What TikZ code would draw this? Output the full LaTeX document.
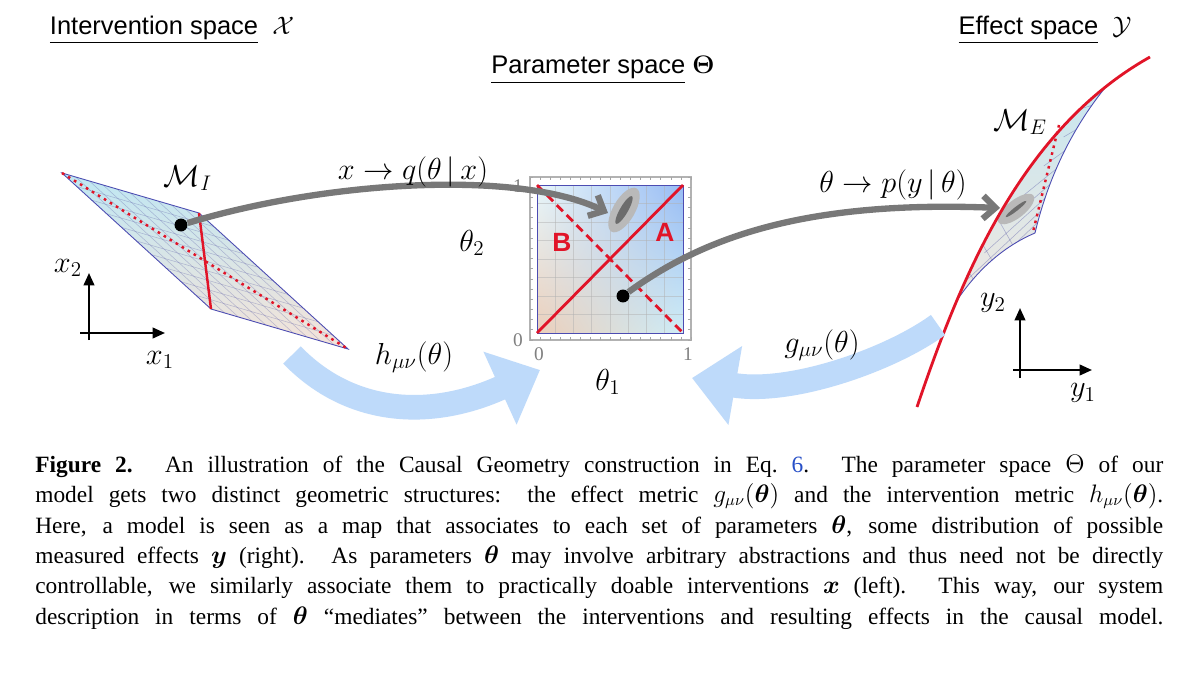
\documentclass[tikz,border=0pt]{standalone}
\usepackage{amsmath,bm}
\usepackage{fontspec}
\setmainfont{Liberation Serif}
\newfontfamily\sansf{Liberation Sans}
\usetikzlibrary{arrows.meta,calc,shadings}
\definecolor{capblue}{RGB}{40,80,200}
\definecolor{bigarr}{RGB}{190,218,250}
\definecolor{mred}{RGB}{225,20,40}
\definecolor{garr}{RGB}{120,120,120}
\definecolor{peach}{RGB}{240,215,200}
\definecolor{sky}{RGB}{175,225,240}
\begin{document}
\begin{tikzpicture}[x=0.02cm,y=-0.02cm,
  title/.style={font=\sansf\fontsize{14.5}{17}\selectfont},
  lab/.style={font=\fontsize{17}{20}\selectfont},
  capl/.style={anchor=west,inner sep=0,font=\fontsize{13.3}{16}\selectfont},
  garrow/.style={draw=garr,line width=3.6pt,-{Straight Barb[length=7pt,width=13pt]}},
  barrow/.style={draw=bigarr,line width=14pt,-{Triangle[length=25pt,width=44pt]}},
  ax/.style={line width=1.2pt,-{Triangle[length=7pt,width=6pt]}},
  tick/.style={font=\fontsize{11}{12}\selectfont,text=gray}]
\useasboundingbox (0,0) rectangle (1200,676);
\fill[white] (0,0) rectangle (1200,676);
% titles
\node[title] (tX) at (172,30) {\underline{Intervention space}\ \ $\mathcal{X}$};
\node[title] (tT) at (603,70) {\underline{Parameter space}\ $\bm{\Theta}$};
\node[title] (tY) at (1045,30) {\underline{Effect space}\ \ $\mathcal{Y}$};
% ---------- left manifold
\coordinate (A) at (62,173); \coordinate (B) at (199,213);
\coordinate (C) at (348,349); \coordinate (D) at (211,309);
\shade[top color=sky!80, bottom color=peach!70] (A)--(B)--(C)--(D)--cycle;
\foreach \t in {0.1,0.2,...,0.91}{
  \draw[blue!30!gray,opacity=.35,line width=.3pt] ($(A)!\t!(B)$)--($(D)!\t!(C)$);
  \draw[blue!30!gray,opacity=.35,line width=.3pt] ($(A)!\t!(D)$)--($(B)!\t!(C)$);}
\draw[blue!40!gray,line width=.5pt] (A)--(B)--(C)--(D)--cycle;
\draw[mred,line width=1.4pt,dash pattern=on 1.5pt off 2.5pt] (A)--(C);
\draw[mred,line width=1.4pt] (B)--(D);
\node[circle,fill=black,inner sep=2.6pt] (xdot) at (181,225) {};
\node[lab] (MI) at (188,178) {$\mathcal{M}_{I}$};
\draw[ax] (89,340)--(89,273); \draw[ax] (80,333)--(165,333);
\node[lab] (x2) at (68,268) {$x_2$};
\node[lab] (x1) at (160,360) {$x_1$};
% ---------- center square
\draw[gray!60,line width=.8pt] (530,177) rectangle (691,340);
\foreach \i in {0,...,16}{
  \draw[gray!70] ({530+\i*161/16},177)--++(0,3); \draw[gray!70] ({530+\i*161/16},340)--++(0,-3);
  \draw[gray!70] (530,{177+\i*163/16})--++(3,0); \draw[gray!70] (691,{177+\i*163/16})--++(-3,0);}
\shade[upper left=sky!30, upper right=sky!80!blue!90, lower left=peach!90!brown, lower right=sky!60] (537,185) rectangle (683,333);
\foreach \i in {1,...,7}{
  \draw[gray!60,opacity=.5] ({537+\i*146/8},185)--({537+\i*146/8},333);
  \draw[gray!60,opacity=.5] (537,{185+\i*148/8})--(683,{185+\i*148/8});}
\draw[blue!40!gray] (537,185) rectangle (683,333);
\draw[mred,line width=1.6pt] (537,333)--(683,185);
\draw[mred,line width=1.6pt,dash pattern=on 5pt off 3pt] (537,185)--(683,333);
\draw[mred,line width=1.2pt] (606,255)--(613,262);
\node[font=\sansf\bfseries\fontsize{15}{17}\selectfont,text=mred] (lA) at (665,232) {A};
\node[font=\sansf\bfseries\fontsize{15}{17}\selectfont,text=mred] (lB) at (562,242) {B};
\fill[gray!55,rotate around={60:(624,210)}] (624,210) ellipse (25 and 11);
\fill[gray!85!black,rotate around={60:(624,210)}] (624,210) ellipse (16 and 4);
\node[circle,fill=black,inner sep=2.6pt] (tdot) at (623,296) {};
\node[tick] (t1) at (518,186) {1};
\node[tick] (t0) at (518,340) {0};
\node[tick] (b0) at (539,354) {0};
\node[tick] (b1) at (688,354) {1};
\node[lab] (th2) at (472,243) {$\theta_2$};
\node[lab] (th1) at (608,382) {$\theta_1$};
% ---------- right manifold
\begin{scope}
\clip (917,407) .. controls (960,280) and (1020,130) .. (1150,57) -- (1200,57) -- (1200,407) -- cycle;
\clip (900,340) -- (900,40) -- (1140,40) -- (1130,60) .. controls (1080,110) and (1050,170) .. (1035,233) .. controls (995,250) and (960,285) .. (935,340) -- cycle;
\shade[top color=sky!80, bottom color=peach!60] (900,340) rectangle (1150,40);
\foreach \t in {0.1,0.2,...,0.95}{
  \draw[blue!30!gray,opacity=.45,line width=.3pt] ($(925,340)!\t!(1123,50)$) -- ($(1035,233)!\t!(1123,68)$);}
\foreach \s in {0.2,0.4,0.6,0.8}{
  \draw[blue!30!gray,opacity=.45,line width=.3pt] ($(1035,233)!\s!(940,322)$) -- ($(990,150)!\s!(920,300)$);}
\end{scope}
\begin{scope}
\clip (917,407) .. controls (960,280) and (1020,130) .. (1150,57) -- (1200,57) -- (1200,407) -- cycle;
\draw[blue!40!gray,line width=.5pt] (1130,60) .. controls (1080,110) and (1050,170) .. (1035,233) .. controls (995,250) and (960,285) .. (935,340);
\end{scope}
\fill[gray!55,rotate around={38:(1016,209)}] (1016,209) ellipse (22 and 9);
\fill[gray!85!black,rotate around={38:(1016,209)}] (1016,209) ellipse (13 and 2);
\draw[mred,line width=1.4pt,dash pattern=on 1.5pt off 2.5pt] (1059,125)--(1033,232);
\draw[mred,line width=1.6pt] (917,407) .. controls (960,280) and (1020,130) .. (1150,57);
\node[lab] (ME) at (1020,122) {$\mathcal{M}_{E}$};
\draw[ax] (1020,378)--(1020,308); \draw[ax] (1013,370)--(1092,370);
\node[lab] (y2) at (993,303) {$y_2$};
\node[lab] (y1) at (1083,393) {$y_1$};
\coordinate (ytip) at (1000,208);
\coordinate (qtip) at (608,213);
% ---------- connectors
\draw[garrow] (xdot) .. controls (330,180) and (520,170) .. (qtip);
\draw[garrow] (tdot) .. controls (700,240) and (800,200) .. (ytip);
\node[lab] (qlab) at (413,172) {$x\rightarrow q(\theta\,|\,x)$};
\node[lab] (plab) at (893,185) {$\theta\rightarrow p(y\,|\,\theta)$};
\coordinate (l0) at (292,355); \coordinate (lt) at (540,370);
\coordinate (r0) at (938,325); \coordinate (rt) at (692,378);
\draw[barrow] (l0) .. controls (350,415) and (430,420) .. (lt);
\draw[barrow] (r0) .. controls (890,360) and (790,395) .. (rt);
\node[lab] (hlab) at (414,357) {$h_{\mu\nu}(\theta)$};
\node[lab] (glab) at (822,345) {$g_{\mu\nu}(\theta)$};
% ---------- caption
\foreach \yy/\txt in {
 466/{\textbf{Figure 2.} An illustration of the Causal Geometry construction in Eq.~\textcolor{capblue}{6}. The parameter space $\Theta$ of our},
 496/{model gets two distinct geometric structures: the effect metric $g_{\mu\nu}(\bm{\theta})$ and the intervention metric $h_{\mu\nu}(\bm{\theta})$.},
 527/{Here, a model is seen as a map that associates to each set of parameters $\bm{\theta}$, some distribution of possible},
 557/{measured effects $\bm{y}$ (right). As parameters $\bm{\theta}$ may involve arbitrary abstractions and thus need not be directly},
 588/{controllable, we similarly associate them to practically doable interventions $\bm{x}$ (left). This way, our system},
 618/{description in terms of $\bm{\theta}$ “mediates” between the interventions and resulting effects in the causal model.}}
 \node[capl] at (35,\yy) {\makebox[642pt][s]{\txt}};
\end{tikzpicture}
\end{document}
